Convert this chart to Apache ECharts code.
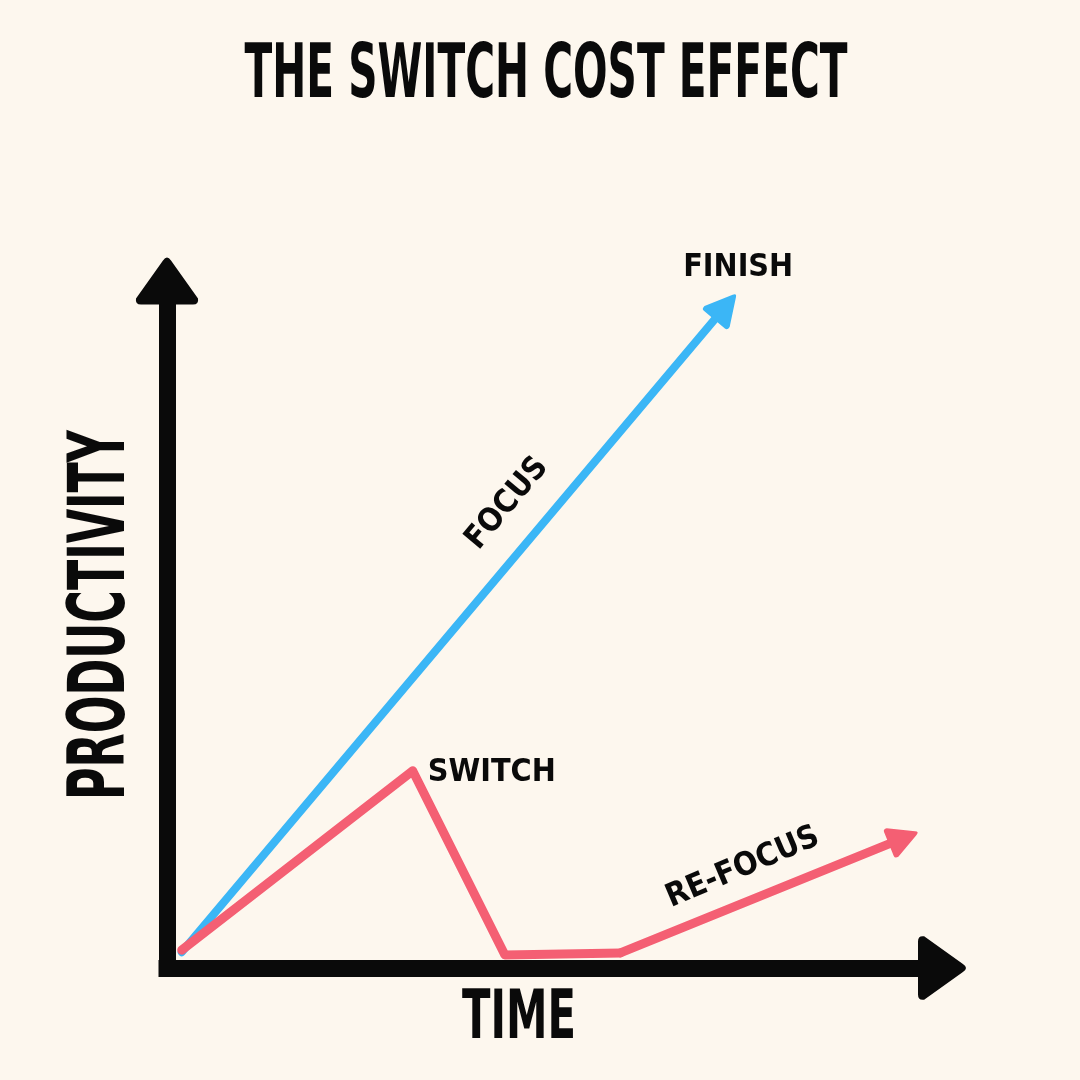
<!DOCTYPE html>
<html>
<head>
<meta charset="utf-8">
<script src="https://cdn.jsdelivr.net/npm/echarts@6/dist/echarts.min.js"></script>
<style>
html,body{margin:0;padding:0;background:#FDF7EE;}
#chart{width:1080px;height:1080px;}
</style>
</head>
<body>
<div id="chart"></div>
<script>
// ---- data (conceptual units: time 0..100, productivity 0..100) ----
const focusPath = [[1.9, 2.3], [72.0, 96.2]];
const switchPath = [[1.9, 2.6], [31.7, 28.7], [43.6, 1.9], [58.5, 2.2], [95.0, 18.9]];
const annotationTexts = ['FINISH', 'SWITCH', 'FOCUS', 'RE-FOCUS'];
const annotationAnchors = [[73.7, 101.9], [41.9, 28.5], [43.9, 67.6], [74.3, 14.6]];
const annotationAngles = [0, 0, 50, 23];
const titleText = 'THE SWITCH COST EFFECT';
const xAxisTitle = 'TIME';
const yAxisTitle = 'PRODUCTIVITY';

const BG = '#FDF7EE';
const BLUE = '#3BB6F6';
const RED = '#F45F73';
const INK = '#0A0A0A';
const FONT = "'DejaVu Sans Condensed', 'DejaVu Sans', sans-serif";
const arrowPath = 'path://M32 0 Q34 0 36 3 L63 41 Q64 47 58 47 L6 47 Q0 47 1 41 L28 3 Q30 0 32 0 Z';

// measure natural text width to fit a target width
const mctx = document.createElement('canvas').getContext('2d');
function fitScale(text, size, target) {
  mctx.font = 'bold ' + size + 'px ' + FONT;
  return target / mctx.measureText(text).width;
}

const chart = echarts.init(document.getElementById('chart'));

chart.setOption({
  backgroundColor: BG,
  animation: false,
  grid: { left: 167, right: 138, top: 281, bottom: 112 },
  graphic: [
    {
      type: 'text', x: 546, y: 78, scaleX: fitScale(titleText, 74, 603),
      style: { text: titleText, fontFamily: FONT, fontWeight: 'bold', fontSize: 74, fill: INK, align: 'center', verticalAlign: 'middle' }
    },
    {
      type: 'text', x: 519, y: 1020, scaleX: fitScale(xAxisTitle, 68, 114),
      style: { text: xAxisTitle, fontFamily: FONT, fontWeight: 'bold', fontSize: 68, fill: INK, align: 'center', verticalAlign: 'middle' }
    },
    {
      type: 'text', x: 104, y: 615, rotation: Math.PI / 2, scaleX: fitScale(yAxisTitle, 78, 370),
      style: { text: yAxisTitle, fontFamily: FONT, fontWeight: 'bold', fontSize: 78, fill: INK, align: 'center', verticalAlign: 'middle' }
    }
  ],
  xAxis: {
    type: 'value', min: 0, max: 100,
    splitLine: { show: false }, axisTick: { show: false }, axisLabel: { show: false },
    axisLine: {
      show: true,
      lineStyle: { color: INK, width: 17, cap: 'square' },
      symbol: ['none', arrowPath],
      symbolSize: [64, 48]
    }
  },
  yAxis: {
    type: 'value', min: 0, max: 100,
    splitLine: { show: false }, axisTick: { show: false }, axisLabel: { show: false },
    axisLine: {
      show: true,
      lineStyle: { color: INK, width: 17, cap: 'square' },
      symbol: ['none', arrowPath],
      symbolSize: [64, 47]
    }
  },
  series: [
    {
      type: 'line',
      data: switchPath.slice(0, switchPath.length - 1),
      showSymbol: false,
      silent: true,
      lineStyle: { color: RED, width: 9, cap: 'round', join: 'round' },
      z: 3
    },
    {
      type: 'lines',
      coordinateSystem: 'cartesian2d',
      data: [{ coords: switchPath.slice(switchPath.length - 2) }],
      symbol: ['none', arrowPath],
      symbolSize: [38, 31],
      lineStyle: { color: RED, width: 9, cap: 'round', opacity: 1, curveness: 0 },
      z: 3
    },
    {
      type: 'lines',
      coordinateSystem: 'cartesian2d',
      data: [{ coords: focusPath }],
      symbol: ['none', arrowPath],
      symbolSize: [42, 33],
      lineStyle: { color: BLUE, width: 8, cap: 'round', opacity: 1, curveness: 0 },
      z: 2
    },
    {
      type: 'scatter',
      clip: false,
      symbolSize: 0,
      silent: true,
      itemStyle: { opacity: 1 },
      data: annotationTexts.map((t, i) => ({
        name: t,
        value: annotationAnchors[i],
        label: { rotate: annotationAngles[i] }
      })),
      label: {
        show: true,
        position: 'inside',
        formatter: p => p.name,
        fontFamily: FONT,
        fontWeight: 'bold',
        fontSize: 32,
        color: INK,
        opacity: 1
      },
      z: 5
    }
  ]
});
</script>
</body>
</html>
